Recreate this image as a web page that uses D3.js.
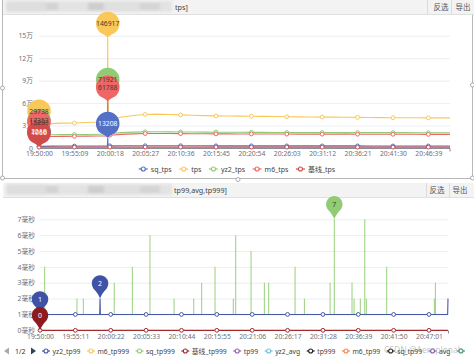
<!DOCTYPE html>
<html><head><meta charset="utf-8">
<script src="https://cdn.jsdelivr.net/npm/d3@7/dist/d3.min.js"></script>
<style>
html,body{margin:0;padding:0;background:#fff;}
svg{display:block;}
</style></head><body>
<svg id="c" width="474" height="357"></svg>
<script>
// ================= DATA =================
// Top chart (tps)
const topTickTimes = [0,309,618,927,1236,1545,1854,2163,2472,2781,3090,3399];
const topTickLabels = ["19:50:00","19:55:09","20:00:18","20:05:27","20:10:36","20:15:45","20:20:54","20:26:03","20:31:12","20:36:21","20:41:30","20:46:39"];
const topYTicks = [0,30000,60000,90000,120000,150000];
const topYLabels = ["0","3万","6万","9万","12万","15万"];
const topTimes = [0,103,206,309,412,515,597,600,603,618,721,824,927,1030,1133,1236,1339,1442,1545,1648,1751,1854,1957,2060,2163,2266,2369,2472,2575,2678,2781,2884,2987,3090,3193,3296,3399,3502,3588];
const sqTps = [2210,2500,2600,2600,2700,2700,2800,13208,2900,2900,3000,3000,3000,3100,3000,3000,3000,3000,2900,2900,2900,2900,2900,2900,2800,2800,2800,2800,2800,2800,2800,2700,2700,2700,2700,2700,2700,2700,2700];
const tps = [29738,32500,33200,33400,34000,34800,36000,146917,37500,38000,41500,43500,44800,45200,44800,44200,43800,43300,42900,42800,42600,42500,42300,42000,41800,41600,41500,41300,41200,41000,40900,40800,40600,40500,40400,40400,40300,40200,40200];
const yz2Tps = [17352,17600,17800,17900,18100,18300,18600,71921,19000,19300,20500,21200,21600,21700,21500,21400,21300,21200,21100,21000,21000,20900,20900,20800,20800,20800,20700,20700,20700,20600,20600,20600,20500,20500,20500,20400,20400,20400,20400];
const m6Tps = [15293,15400,15500,15600,15800,16000,16200,61788,16600,17000,18200,18900,19300,19400,19300,19200,19100,19000,18900,18900,18800,18800,18700,18700,18600,18600,18600,18500,18500,18500,18400,18400,18400,18300,18300,18300,18200,18200,18200];
const baseTps = [1066,1120,1130,1140,1150,1150,1160,1180,1160,1170,1180,1190,1190,1200,1200,1190,1190,1190,1180,1180,1180,1180,1170,1170,1170,1170,1170,1160,1160,1160,1160,1160,1160,1150,1150,1150,1150,1150,1150];
const topSeriesNames = ["sq_tps","tps","yz2_tps","m6_tps","基线_tps"];

// Bottom chart (latency)
const botTickTimes = [0,311,622,933,1244,1555,1866,2177,2488,2799,3110,3421];
const botTickLabels = ["19:50:00","19:55:11","20:00:22","20:05:33","20:10:44","20:15:55","20:21:06","20:26:17","20:31:28","20:36:39","20:41:50","20:47:01"];
const botYTicks = [0,1,2,3,4,5,6,7];
const botYLabels = ["0毫秒","1毫秒","2毫秒","3毫秒","4毫秒","5毫秒","6毫秒","7毫秒"];
const yz2Tp99Times = [0,311,525,528,531,622,933,1244,1555,1866,2177,2488,2799,3110,3421,3585,3588];
const yz2Tp99 = [1,1,1,2,1,1,1,1,1,1,1,1,1,1,1,1,2];
const baseTp999Times = [0,311,622,933,1244,1555,1866,2177,2488,2799,3110,3421,3588];
const baseTp999 = [0,0,0,0,0,0,0,0,0,0,0,0,0];
const sqTp999Base = 1;
const sqTp999SpikeTimes = [41,325,381,653,812,967,1179,1352,1422,1539,1700,1721,1856,1973,2011,2243,2325,2551,2588,2744,2762,2817,2856,2870,3049,3468,3477];
const sqTp999Spikes = [4,2,2,3,4,6,2,2,3,4,2,6,5,3,3,4,2,3,7,3,2,2,7,2,4,2,3];
const botLegendNames = ["yz2_tp99","m6_tp999","sq_tp999","基线_tp999","tp99","yz2_avg","tp999","m6_tp99","sq_tp99","avg","yz2"];

// ================= STYLE =================
const topColors = {"sq_tps":"#5470c6","tps":"#fac858","yz2_tps":"#91cc75","m6_tps":"#ee6666","基线_tps":"#d24b4b"};
const botColors = ["#4658a8","#fac858","#91cc75","#a42a2e","#9a60b4","#73c0de","#222","#fc8452","#222","#9a60b4","#3ba272"];
const FONT = '"Noto Sans","Noto Sans CJK SC",sans-serif';

const svg = d3.select("#c").style("font-family", FONT);
const defs = svg.append("defs");
defs.append("filter").attr("id","blur").append("feGaussianBlur").attr("stdDeviation",1.6);

// ============ PANEL FRAMES / HEADERS ============
function header(y0, h, rightText, textX, sepA, sepB, btnA, btnB, blocks) {
  const g = svg.append("g");
  g.append("rect").attr("x",3).attr("y",y0).attr("width",471).attr("height",h).attr("fill","#f3f3f3");
  g.append("line").attr("x1",3).attr("x2",474).attr("y1",y0+h+0.5).attr("y2",y0+h+0.5).attr("stroke","#e0e0e0");
  const bg = g.append("g").attr("filter","url(#blur)");
  blocks.forEach(b => bg.append("rect").attr("x",b[0]).attr("y",y0+b[1]).attr("width",b[2]).attr("height",b[3]).attr("fill",b[4]));
  g.append("text").attr("x",textX).attr("y",y0+h/2).attr("dominant-baseline","central")
    .attr("font-size",7.2).attr("fill","#444").text(rightText);
  [sepA,sepB].forEach(x => g.append("line").attr("x1",x).attr("x2",x).attr("y1",y0).attr("y2",y0+h).attr("stroke","#dcdcdc"));
  g.append("text").attr("x",btnA).attr("y",y0+h/2).attr("text-anchor","middle").attr("dominant-baseline","central").attr("font-size",7.5).attr("fill","#555").text("反选");
  g.append("text").attr("x",btnB).attr("y",y0+h/2).attr("text-anchor","middle").attr("dominant-baseline","central").attr("font-size",7.5).attr("fill","#555").text("导出");
}
svg.append("rect").attr("x",2.5).attr("y",-1).attr("width",470).attr("height",179.5).attr("fill","none").attr("stroke","#b8b8b8");
const mosaic = [[6,1,40,11,"#dedede"],[46,2,12,9,"#d3d3d3"],[58,1,30,11,"#e3e3e3"],[88,2,16,9,"#cecece"],[104,1,36,11,"#e0e0e0"],[140,2,20,9,"#d5d5d5"],[160,1,12,11,"#e3e3e3"]];
header(0, 14, "tps]", 175, 427.5, 451.5, 441, 463, mosaic);
header(183, 14, "tp99,avg,tp999]", 174, 426.5, 449.5, 437, 460, mosaic);
[[2.5,88],[2.5,178],[238,179.5],[472.5,178],[472.5,85]].forEach(p =>
  svg.append("circle").attr("cx",p[0]).attr("cy",p[1]).attr("r",2).attr("fill","#fff").attr("stroke","#999").attr("stroke-width",0.8));

// ============ HELPERS ============
function pinPath(r, D) {
  const a = Math.acos(r / D);
  const px = r * Math.sin(a), py = -D + r * Math.cos(a);
  return `M${-px},${py}A${r},${r} 0 1 1 ${px},${py}Q${px*0.2},${py*0.45} 0,0Q${-px*0.2},${py*0.45} ${-px},${py}Z`;
}
function styleAxis(g, color, size) {
  g.select(".domain").remove();
  g.selectAll("text").attr("fill", color).attr("font-size", size).attr("font-family", FONT);
}
function legend(g, names, colors, startX, y, centerX, maxX, opt) {
  const iconW = opt.iconW, gap = opt.gap, itemGap = opt.itemGap;
  const items = g.append("g");
  let x = 0;
  const ox0 = startX != null ? startX : 0;
  names.forEach((n, i) => {
    const it = items.append("g").attr("transform", `translate(${x},${y})`);
    it.append("line").attr("x1",0).attr("x2",iconW).attr("stroke",colors[i]).attr("stroke-width",1.2);
    it.append("circle").attr("cx",iconW/2).attr("r",2).attr("fill","#fff").attr("stroke",colors[i]).attr("stroke-width",1.1);
    const t = it.append("text").attr("x",iconW+gap).attr("dominant-baseline","central").attr("font-size",opt.size)
      .attr("fill","#444").text(n);
    const w = t.node().getComputedTextLength();
    if (maxX != null && ox0 + x + iconW + gap + w > maxX) t.remove();  // clipped by the legend viewport
    x += iconW + gap + w + itemGap;
  });
  const total = x - itemGap;
  const ox = centerX != null ? centerX - total/2 : startX;
  items.attr("transform", `translate(${ox},0)`);
}

// ============ TOP CHART ============
const xT = d3.scaleLinear().domain([0,3588]).range([39,450]);
const yT = d3.scaleLinear().domain([0,150000]).range([148,35.7]);
const gT = svg.append("g");
gT.append("g").call(d3.axisLeft(yT).tickValues(topYTicks.slice(1)).tickSize(-(450-39)).tickFormat(""))
  .attr("transform","translate(39,0)")
  .call(g => { g.select(".domain").remove(); g.selectAll("line").attr("stroke","#eceef3"); });
gT.append("g").attr("transform","translate(39,0)")
  .call(d3.axisLeft(yT).tickValues(topYTicks).tickFormat((d,i)=>topYLabels[i]).tickSize(0).tickPadding(6))
  .call(g => styleAxis(g, "#6e7079", 6.8));
gT.append("line").attr("x1",39).attr("x2",450).attr("y1",148.5).attr("y2",148.5).attr("stroke","#6e7079").attr("stroke-width",0.8);
gT.append("line").attr("x1",450).attr("x2",450).attr("y1",148.5).attr("y2",151.5).attr("stroke","#6e7079").attr("stroke-width",0.8);
gT.append("g").attr("transform","translate(0,148.5)")
  .call(d3.axisBottom(xT).tickValues(topTickTimes).tickFormat((d,i)=>topTickLabels[i]).tickSize(0).tickPadding(3))
  .call(g => styleAxis(g, "#6e7079", 6.8));

const topSeries = [
  {name:"sq_tps", vals:sqTps, pins:["max","min"]},
  {name:"tps", vals:tps, pins:["max","min"]},
  {name:"yz2_tps", vals:yz2Tps, pins:["max","min"]},
  {name:"m6_tps", vals:m6Tps, pins:["max","min"]},
  {name:"基线_tps", vals:baseTps, pins:["min"]}
];
const lineT = d3.line().x((d,i)=>xT(topTimes[i])).y(d=>yT(d));
topSeries.forEach(s => {
  gT.append("path").attr("d", lineT(s.vals)).attr("fill","none").attr("stroke",topColors[s.name]).attr("stroke-width",1.1);
});
topSeries.forEach(s => {
  const idx = topTimes.map((t,i)=>i).filter(i => topTickTimes.includes(topTimes[i]));
  gT.selectAll(null).data(idx).enter().append("circle")
    .attr("cx", i=>xT(topTimes[i])).attr("cy", i=>yT(s.vals[i])).attr("r",1.9)
    .attr("fill","#fff").attr("stroke",topColors[s.name]).attr("stroke-width",1);
});
const topPins = [];
topSeries.forEach(s => s.pins.forEach(p => {
  const i = p === "max" ? d3.maxIndex(s.vals) : d3.minIndex(s.vals);
  topPins.push({x:xT(topTimes[i]), y:yT(s.vals[i]), v:s.vals[i], c:topColors[s.name],
    tc: (s.name==="sq_tps"||s.name==="基线_tps") ? "#fff" : "#4a3a2a"});
}));
topPins.forEach(p => gT.append("path").attr("d", pinPath(11.8,14.5)).attr("transform",`translate(${p.x},${p.y})`).attr("fill",p.c));
topPins.forEach(p => gT.append("text").attr("x",p.x).attr("y",p.y-14.5).attr("text-anchor","middle")
  .attr("dominant-baseline","central").attr("font-size",6.8).attr("fill",p.tc).text(p.v));
legend(gT, topSeriesNames, topSeriesNames.map(n=>topColors[n]), null, 169, 237, null, {iconW:9, gap:3, itemGap:7.5, size:7});

// ============ BOTTOM CHART ============
const xB = d3.scaleLinear().domain([0,3588]).range([40,448]);
const yB = d3.scaleLinear().domain([0,7]).range([330.3,219.3]);
const gB = svg.append("g");
gB.append("g").attr("transform","translate(40,0)")
  .call(d3.axisLeft(yB).tickValues(botYTicks.slice(1)).tickSize(-(448-40)).tickFormat(""))
  .call(g => { g.select(".domain").remove(); g.selectAll("line").attr("stroke","#eceef3"); });
gB.append("g").attr("transform","translate(40,0)")
  .call(d3.axisLeft(yB).tickValues(botYTicks).tickFormat((d,i)=>botYLabels[i]).tickSize(0).tickPadding(5))
  .call(g => styleAxis(g, "#6e7079", 6.8));
gB.append("line").attr("x1",40).attr("x2",448).attr("y1",330.5).attr("y2",330.5).attr("stroke","#6e7079").attr("stroke-width",0.8);
gB.append("line").attr("x1",448.5).attr("x2",448.5).attr("y1",330.5).attr("y2",333.5).attr("stroke","#6e7079").attr("stroke-width",0.8);
gB.append("g").attr("transform","translate(0,330.5)")
  .call(d3.axisBottom(xB).tickValues(botTickTimes).tickFormat((d,i)=>botTickLabels[i]).tickSize(0).tickPadding(4))
  .call(g => styleAxis(g, "#6e7079", 6.8));

gB.append("line").attr("x1",xB(0)).attr("x2",xB(3588)).attr("y1",yB(sqTp999Base)).attr("y2",yB(sqTp999Base)).attr("stroke",botColors[2]).attr("stroke-width",1);
gB.selectAll(null).data(sqTp999SpikeTimes).enter().append("line")
  .attr("x1",t=>xB(t)).attr("x2",t=>xB(t)).attr("y1",yB(sqTp999Base)).attr("y2",(t,i)=>yB(sqTp999Spikes[i]))
  .attr("stroke","#98d07c").attr("stroke-width",1);
const lineB = (times) => d3.line().x((d,i)=>xB(times[i])).y(d=>yB(d));
gB.append("path").attr("d", lineB(yz2Tp99Times)(yz2Tp99)).attr("fill","none").attr("stroke",botColors[0]).attr("stroke-width",1.1);
gB.append("path").attr("d", lineB(baseTp999Times)(baseTp999)).attr("fill","none").attr("stroke",botColors[3]).attr("stroke-width",1.2);
[[yz2Tp99Times,yz2Tp99,botColors[0]],[baseTp999Times,baseTp999,botColors[3]]].forEach(([ts,vs,c]) => {
  const idx = ts.map((t,i)=>i).filter(i => botTickTimes.includes(ts[i]));
  gB.selectAll(null).data(idx).enter().append("circle")
    .attr("cx",i=>xB(ts[i])).attr("cy",i=>yB(vs[i])).attr("r",1.9)
    .attr("fill","#fff").attr("stroke",c).attr("stroke-width",1);
});
const botPins = [];
const sqMaxI = d3.maxIndex(sqTp999Spikes);
botPins.push({x:xB(sqTp999SpikeTimes[sqMaxI]), y:yB(sqTp999Spikes[sqMaxI]), v:sqTp999Spikes[sqMaxI], c:botColors[2], tc:"#3a4a2a"});
const yzMin = d3.minIndex(yz2Tp99), yzMax = d3.maxIndex(yz2Tp99);
botPins.push({x:xB(yz2Tp99Times[yzMin]), y:yB(yz2Tp99[yzMin]), v:yz2Tp99[yzMin], c:"#3f53a6", tc:"#fff"});
botPins.push({x:xB(yz2Tp99Times[yzMax]), y:yB(yz2Tp99[yzMax]), v:yz2Tp99[yzMax], c:"#3f53a6", tc:"#fff"});
const bMin = d3.minIndex(baseTp999);
botPins.push({x:xB(baseTp999Times[bMin]), y:yB(baseTp999[bMin]), v:baseTp999[bMin], c:"#8c1c20", tc:"#fff"});
botPins.forEach(p => gB.append("path").attr("d", pinPath(8.3,15)).attr("transform",`translate(${p.x},${p.y})`).attr("fill",p.c));
botPins.forEach(p => gB.append("text").attr("x",p.x).attr("y",p.y-15).attr("text-anchor","middle")
  .attr("dominant-baseline","central").attr("font-size",7).attr("fill",p.tc).text(p.v));

const lg = svg.append("g");
lg.append("path").attr("d","M4,351 L9,347.5 L9,354.5 Z").attr("fill","#aaa");
lg.append("text").attr("x",15).attr("y",351).attr("dominant-baseline","central").attr("font-size",7).attr("fill","#333").text("1/2");
lg.append("path").attr("d","M31,347.5 L36,351 L31,354.5 Z").attr("fill","#2f4554");
legend(lg, botLegendNames, botColors, 42, 351, null, 472, {iconW:8, gap:2.5, itemGap:6.5, size:6.8});

svg.append("text").attr("x",384).attr("y",349).attr("dominant-baseline","central").attr("font-size",8.5)
  .attr("fill","rgba(120,120,120,0.45)").text("CSDN @Aeroplonah");
</script>
</body></html>
